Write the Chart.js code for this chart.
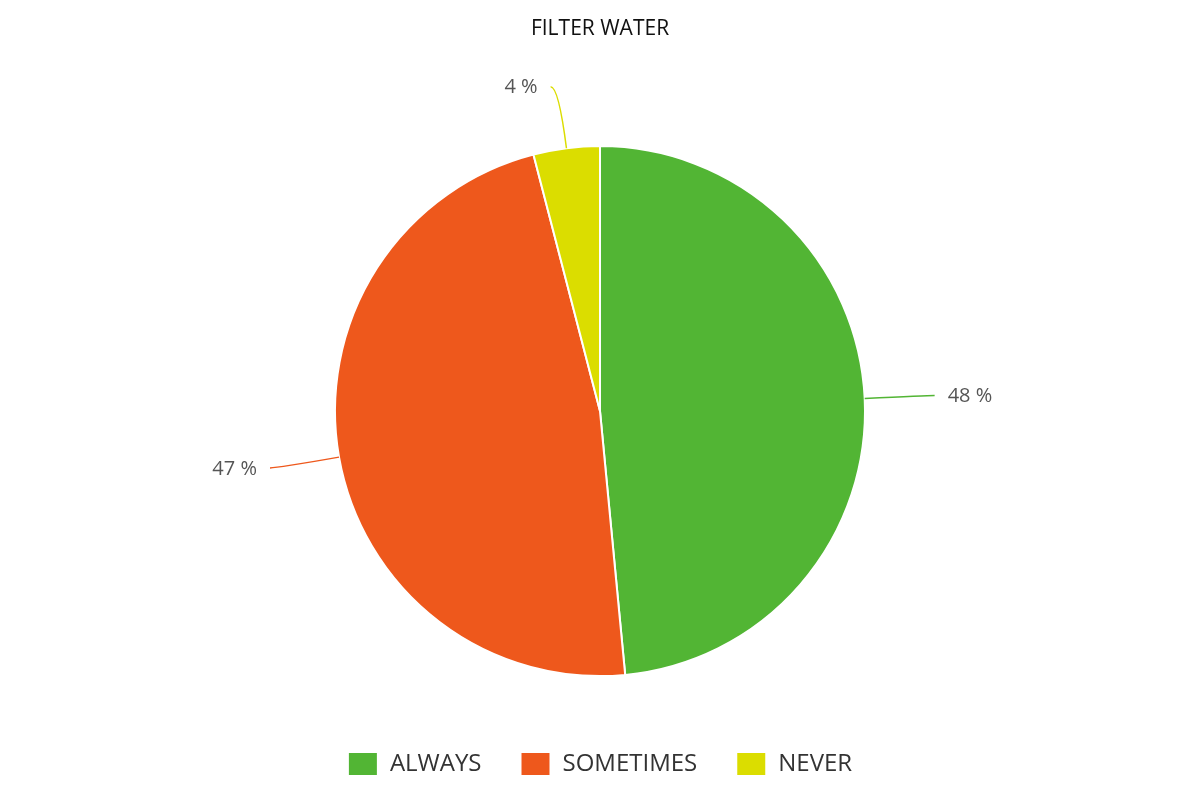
<!DOCTYPE html>
<html>
<head>
<meta charset="utf-8">
<script src="https://cdn.jsdelivr.net/npm/chart.js@4/dist/chart.umd.min.js"></script>
<style>
  html, body { margin: 0; padding: 0; background: #fff; }
  #wrap { width: 1200px; height: 800px; }
</style>
</head>
<body>
<div id="wrap"><canvas id="pieChart"></canvas></div>
<script>
// --- DATA ---
const categories = ['ALWAYS', 'SOMETIMES', 'NEVER'];
const percentValues = [48, 47, 4];
const sliceColors = ['#52b534', '#ee581c', '#dbdd00'];
const chartTitle = 'FILTER WATER';

const FONT = "'Open Sans', 'Noto Sans', sans-serif";

// --- OUTSIDE LABELS WITH CONNECTOR LINES ---
const outsideLabels = {
  id: 'outsideLabels',
  afterDatasetsDraw(chart) {
    const ctx = chart.ctx;
    const meta = chart.getDatasetMeta(0);
    meta.data.forEach((arc, i) => {
      const p = arc.getProps(['x', 'y', 'startAngle', 'endAngle', 'outerRadius'], true);
      const mid = (p.startAngle + p.endAngle) / 2;
      const cos = Math.cos(mid), sin = Math.sin(mid);
      const side = cos >= 0 ? 1 : -1;
      const x0 = p.x + cos * p.outerRadius, y0 = p.y + sin * p.outerRadius;
      const x1 = p.x + cos * (p.outerRadius + 62), y1 = p.y + sin * (p.outerRadius + 62);
      const x2 = x1 + side * 8, y2 = y1;

      ctx.save();
      ctx.strokeStyle = sliceColors[i];
      ctx.lineWidth = 1.5;
      ctx.beginPath();
      ctx.moveTo(x0, y0);
      ctx.quadraticCurveTo(x1, y1, x2, y2);
      ctx.stroke();

      ctx.fillStyle = '#555555';
      ctx.font = '20px ' + FONT;
      ctx.textBaseline = 'middle';
      ctx.textAlign = side > 0 ? 'left' : 'right';
      ctx.fillText(percentValues[i] + ' %', x2 + side * 13, y2 + 1);
      ctx.restore();
    });
  }
};

new Chart(document.getElementById('pieChart'), {
  type: 'pie',
  data: {
    labels: categories,
    datasets: [{
      data: percentValues,
      backgroundColor: sliceColors,
      borderColor: '#ffffff',
      borderWidth: 2,
      radius: 265
    }]
  },
  options: {
    responsive: true,
    maintainAspectRatio: false,
    animation: false,
    layout: { padding: { top: 6, bottom: 14 } },
    plugins: {
      title: {
        display: true,
        text: chartTitle,
        color: '#111111',
        font: { family: FONT, size: 21, weight: 'normal' },
        padding: { top: 10, bottom: 68 }
      },
      legend: {
        position: 'bottom',
        labels: {
          color: '#333333',
          font: { family: FONT, size: 24 },
          boxWidth: 30,
          boxHeight: 24,
          padding: 39
        }
      },
      tooltip: { enabled: false }
    }
  },
  plugins: [outsideLabels]
});
</script>
</body>
</html>
